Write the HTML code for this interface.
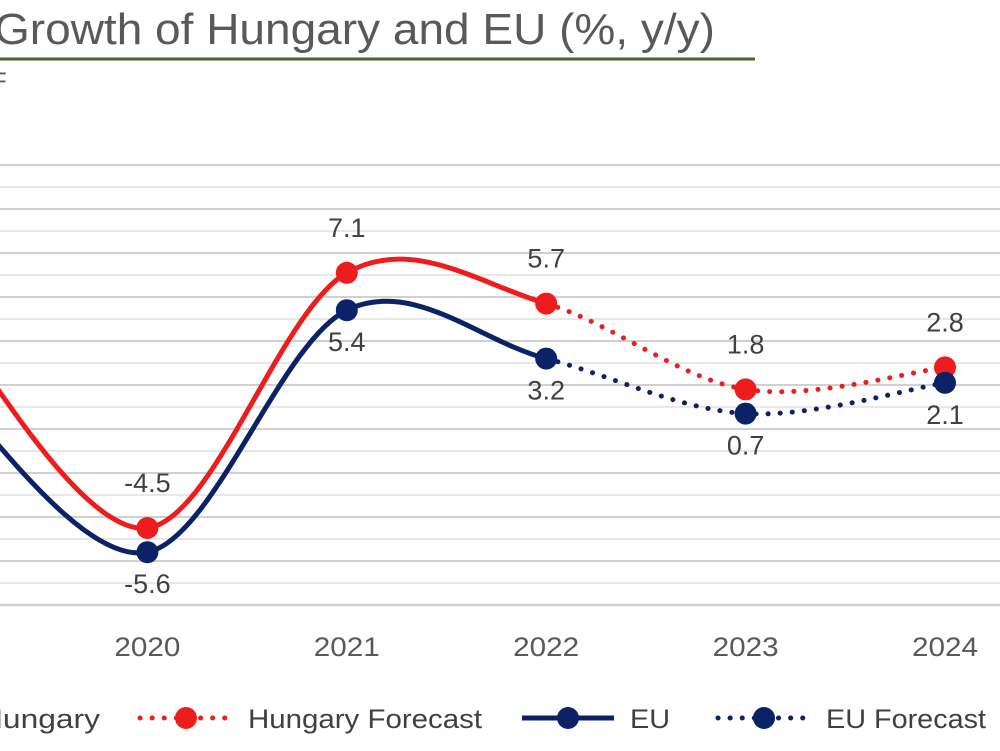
<!DOCTYPE html>
<html><head><meta charset="utf-8"><style>
body{margin:0;background:#fff;overflow:hidden}
svg{display:block;font-family:"Liberation Sans",sans-serif}
</style></head><body>
<svg id="chart" width="1000" height="751" viewBox="0 0 1000 751">
<text x="-6" y="44" font-size="44" fill="#595959" textLength="721" lengthAdjust="spacingAndGlyphs">Growth of Hungary and EU (%, y/y)</text>
<line x1="0" y1="59" x2="755" y2="59" stroke="#4f6228" stroke-width="3"/>
<text x="-8" y="89" font-size="24" fill="#595959">F</text>
<g id="grid"></g><g id="lines"></g><g id="labels"></g><g id="legend"></g>
</svg>
<script>
const years=[2019,2020,2021,2022,2023,2024];
const hungary=[4.9,-4.5,7.1,5.7,1.8,2.8];
const eu=[1.8,-5.6,5.4,3.2,0.7,2.1];
const forecastStart=3;
const yTicks=[-8,-7,-6,-5,-4,-3,-2,-1,0,1,2,3,4,5,6,7,8,9,10,11,12];
const xLabels=["2020","2021","2022","2023","2024"];
const NS="http://www.w3.org/2000/svg";
const X=i=>-52+i*199.4;
const Y=v=>429-v*22;
function mk(t,a,p){const e=document.createElementNS(NS,t);for(const k in a)e.setAttribute(k,a[k]);p.appendChild(e);return e;}
const grid=document.getElementById('grid');
yTicks.forEach(v=>{
 const l=mk('line',{x1:0,x2:1000,y1:Y(v),y2:Y(v),stroke:v%2===0?'#d0d0d0':'#e8e8e8','stroke-width':v===-8?2.5:2},grid);
 
 
});
xLabels.forEach((s,i)=>{
 const t=mk('text',{x:X(i+1),y:656,'font-size':27,fill:'#595959','text-anchor':'middle',textLength:66,lengthAdjust:'spacingAndGlyphs'},grid);t.textContent=s;
 
 
});
function seg(vals,a,b){
 const P=vals.map((v,i)=>[X(i),Y(v)]);
 let d=`M${P[a][0]},${P[a][1]}`;
 for(let i=a;i<b;i++){
  const p0=P[Math.max(i-1,0)],p1=P[i],p2=P[i+1],p3=P[Math.min(i+2,P.length-1)];
  const c1=[p1[0]+(p2[0]-p0[0])/6,p1[1]+(p2[1]-p0[1])/6];
  const c2=[p2[0]-(p3[0]-p1[0])/6,p2[1]-(p3[1]-p1[1])/6];
  d+=` C${c1[0]},${c1[1]} ${c2[0]},${c2[1]} ${p2[0]},${p2[1]}`;
 }
 return d;
}
const lines=document.getElementById('lines');
[[hungary,'#ee1c1c','hungary'],[eu,'#0c2266','eu']].forEach(([vals,c,n])=>{
 const s=mk('path',{d:seg(vals,0,forecastStart),fill:'none',stroke:c,'stroke-width':5},lines);
 
 
 const f=mk('path',{d:seg(vals,forecastStart,vals.length-1),fill:'none',stroke:c,'stroke-width':5,'stroke-dasharray':'0.1 12','stroke-linecap':'round'},lines);
 
 
 vals.forEach((v,i)=>{
  const m=mk('circle',{cx:X(i),cy:Y(v),r:11,fill:c},lines);
  
  
 });
});
const labels=document.getElementById('labels');
hungary.forEach((v,i)=>{
 const t=mk('text',{x:X(i),y:Y(v)-36,'font-size':27,fill:'#404040','text-anchor':'middle'},labels);t.textContent=v.toFixed(1);
 
 
});
eu.forEach((v,i)=>{
 const t=mk('text',{x:X(i),y:Y(v)+41,'font-size':27,fill:'#404040','text-anchor':'middle'},labels);t.textContent=v.toFixed(1);
 
 
});
const lg=document.getElementById('legend');
const items=[[-128,'Hungary','#ee1c1c',false,120],[140,'Hungary Forecast','#ee1c1c',true,234],[522,'EU','#0c2266',false,40],[718,'EU Forecast','#0c2266',true,160]];
items.forEach(([x,s,c,dot,w])=>{
 const g=mk('g',{},lg);
 
 
 mk('line',Object.assign({x1:x,x2:x+92,y1:718,y2:718,stroke:c,'stroke-width':5},dot?{'stroke-dasharray':'0.1 12','stroke-linecap':'round'}:{}),g);
 mk('circle',{cx:x+46,cy:718,r:11,fill:c},g);
 const t=mk('text',{x:x+108,y:728,'font-size':27,fill:'#404040',textLength:w,lengthAdjust:'spacingAndGlyphs'},g);t.textContent=s;
});
</script>
</body></html>
